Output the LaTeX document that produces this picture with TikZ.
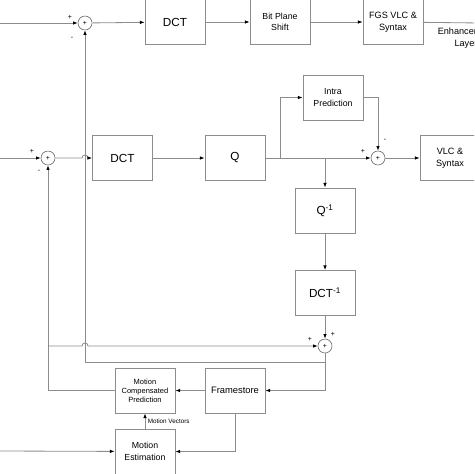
\documentclass[tikz,border=0pt]{standalone}
\usepackage{fontspec}
\setmainfont{Liberation Sans}
\usetikzlibrary{arrows.meta,calc}

\tikzset{
  blk/.style={draw=black!45, line width=0.6pt, minimum width=1.8cm, minimum height=1.35cm, align=center, inner sep=1pt},
  sumnode/.style={circle, draw=black!60, line width=0.5pt, minimum size=0.42cm, inner sep=0pt, font=\fontsize{6}{6}\selectfont},
  wire/.style={draw=black!45, line width=0.7pt},
  arr/.style={wire, -{Latex[length=4pt,width=3pt,black]}},
  sgn/.style={font=\fontsize{6}{6}\selectfont, inner sep=0pt},
}

\begin{document}
\begin{tikzpicture}[x=0.03cm,y=-0.03cm]
  \useasboundingbox (0,0) rectangle (474,474);
  \clip (0,0) rectangle (474,474);

  % Parameters
  \def\hr{0.09cm}  % hop radius

  % Coordinates
  \coordinate (inA) at (0,23);
  \coordinate (inB) at (0,158);
  \coordinate (inC) at (0,451);
  \coordinate (outE) at (480,23);
  \coordinate (tapI) at (280,158);
  \coordinate (tapQ) at (325,158);
  \coordinate (tapP) at (48,346);
  \coordinate (tapR) at (325,362);
  \coordinate (hopB) at (85,158);
  \coordinate (hopP) at (85,346);

  % Enhancement layer
  \node[sumnode] (sumE) at (85,23) {+};
  \node[blk, font=\fontsize{10}{12}\selectfont] (dctE) at (175,22) {DCT};
  \node[blk, font=\fontsize{7.5}{10}\selectfont] (bps) at (280,22) {Bit Plane\\Shift};
  \node[blk, font=\fontsize{7.8}{10}\selectfont] (fgs) at (393,22) {FGS VLC \&\\Syntax};
  \node[align=center, font=\fontsize{7.8}{10}\selectfont] (enh) at (466,38) {Enhancement\\Layer};

  % Base layer
  \node[sumnode] (sumB) at (48,158) {+};
  \node[blk, font=\fontsize{10}{12}\selectfont] (dct) at (122.5,158) {DCT};
  \node[blk, font=\fontsize{10}{12}\selectfont] (q) at (235,158) {Q};
  \node[blk, font=\fontsize{7.5}{10}\selectfont] (intra) at (333,97.5) {Intra\\Prediction};
  \node[sumnode] (sumV) at (378,158) {+};
  \node[blk, font=\fontsize{7.8}{10}\selectfont] (vlc) at (450,158) {VLC \&\\Syntax};
  \node[blk, font=\fontsize{10}{12}\selectfont] (iq) at (325,210.5) {Q\textsuperscript{-1}};
  \node[blk, font=\fontsize{10}{12}\selectfont] (idct) at (325,293) {DCT\textsuperscript{-1}};
  \node[sumnode] (sumR) at (325,346) {+};
  \node[blk, font=\fontsize{8}{10}\selectfont] (fs) at (235,390.5) {Framestore};
  \node[blk, font=\fontsize{6.4}{7.6}\selectfont] (mcp) at (145,390.5) {Motion\\Compensated\\Prediction};
  \node[blk, font=\fontsize{7.5}{10}\selectfont] (me) at (145,451.5) {Motion\\Estimation};

  % Wires
  \draw[arr] (inA) -- (sumE);
  \draw[arr] (sumE) -- (dctE);
  \draw[arr] (dctE) -- (bps);
  \draw[arr] (bps) -- (fgs);
  \draw[wire] (fgs) -- (outE);

  \draw[arr] (inB) -- (sumB);
  \draw[arr] (sumB) -- ($(hopB)+(-3,0)$) arc[start angle=180,end angle=0,radius=\hr] -- (dct);
  \draw[arr] (dct) -- (q);
  \draw[arr] (q) -- (sumV);
  \draw[arr] (tapI) |- (intra);
  \draw[arr] (intra) -| (sumV);
  \draw[arr] (sumV) -- (vlc);
  \draw[arr] (tapQ) -- (iq);
  \draw[arr] (iq) -- (idct);
  \draw[arr] (idct) -- (sumR);
  \draw[arr] (sumR) |- (fs);
  \draw[arr] (fs) -- (mcp);
  \draw[arr] (me) -- node[right, font=\fontsize{5.4}{6}\selectfont, inner sep=2pt] {Motion Vectors} (mcp);
  \draw[arr] (inC) -- (me);
  \draw[arr] (fs) |- (me);
  \draw[arr] (mcp) -| (sumB);
  \draw[arr] (tapP) -- ($(hopP)+(-3,0)$) arc[start angle=180,end angle=0,radius=\hr] -- (sumR);
  \draw[arr] (tapR) -| (sumE);

  % Signs
  \node[sgn] at (70,17) {+};
  \node[sgn] at (72,38) {-};
  \node[sgn] at (32,151) {+};
  \node[sgn] at (39,171) {-};
  \node[sgn] at (363,151) {+};
  \node[sgn] at (385,140) {-};
  \node[sgn] at (310,339) {+};
  \node[sgn] at (333,334) {+};
\end{tikzpicture}
\end{document}
